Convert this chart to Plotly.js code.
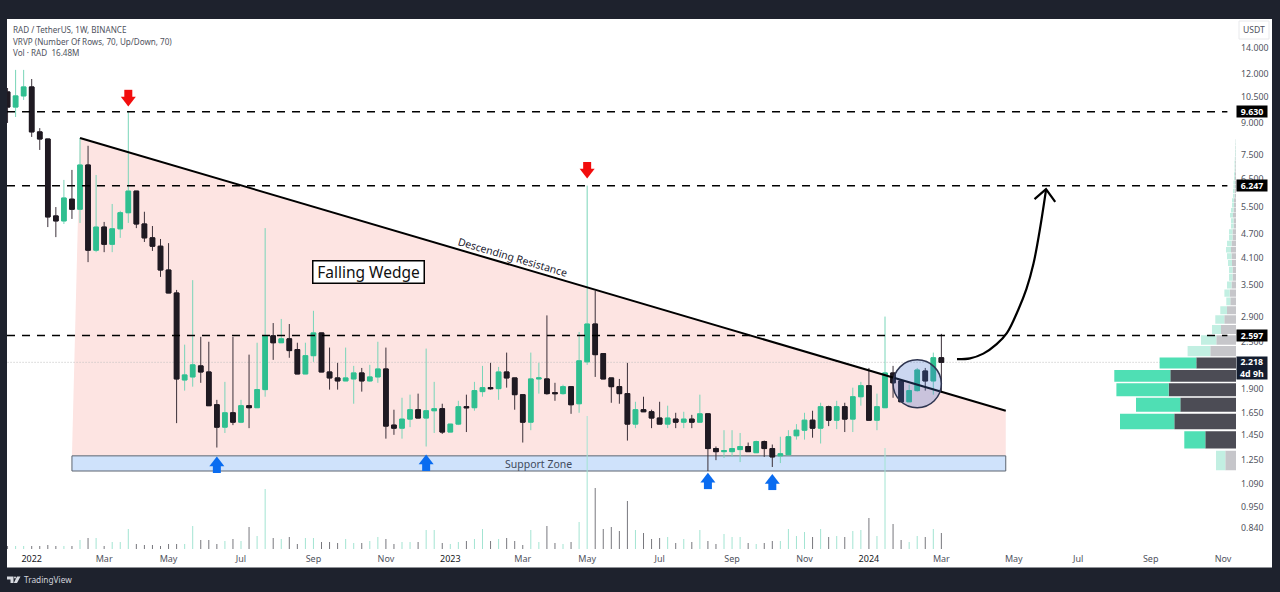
<!DOCTYPE html>
<html><head><meta charset="utf-8">
<script src="https://cdn.plot.ly/plotly-3.0.1.min.js"></script>
<style>html,body{margin:0;padding:0;background:#1e222d;overflow:hidden}#c{width:1280px;height:592px}</style>
</head><body><div id="c"></div>
<script>
const weeks = ["2021-12-13","2021-12-20","2021-12-27",
"2022-01-03","2022-01-10","2022-01-17","2022-01-24","2022-01-31","2022-02-07","2022-02-14","2022-02-21","2022-02-28",
"2022-03-07","2022-03-14","2022-03-21","2022-03-28","2022-04-04","2022-04-11","2022-04-18","2022-04-25",
"2022-05-02","2022-05-09","2022-05-16","2022-05-23","2022-05-30","2022-06-06","2022-06-13","2022-06-20","2022-06-27",
"2022-07-04","2022-07-11","2022-07-18","2022-07-25","2022-08-01","2022-08-08","2022-08-15","2022-08-22","2022-08-29",
"2022-09-05","2022-09-12","2022-09-19","2022-09-26","2022-10-03","2022-10-10","2022-10-17","2022-10-24","2022-10-31",
"2022-11-07","2022-11-14","2022-11-21","2022-11-28","2022-12-05","2022-12-12","2022-12-19","2022-12-26",
"2023-01-02","2023-01-09","2023-01-16","2023-01-23","2023-01-30","2023-02-06","2023-02-13","2023-02-20","2023-02-27",
"2023-03-06","2023-03-13","2023-03-20","2023-03-27","2023-04-03","2023-04-10","2023-04-17","2023-04-24",
"2023-05-01","2023-05-08","2023-05-15","2023-05-22","2023-05-29","2023-06-05","2023-06-12","2023-06-19","2023-06-26",
"2023-07-03","2023-07-10","2023-07-17","2023-07-24","2023-07-31","2023-08-07","2023-08-14","2023-08-21","2023-08-28",
"2023-09-04","2023-09-11","2023-09-18","2023-09-25","2023-10-02","2023-10-09","2023-10-16","2023-10-23","2023-10-30",
"2023-11-06","2023-11-13","2023-11-20","2023-11-27","2023-12-04","2023-12-11","2023-12-18","2023-12-25",
"2024-01-01","2024-01-08","2024-01-15","2024-01-22","2024-01-29","2024-02-05","2024-02-12","2024-02-19","2024-02-26","2024-03-04"];
const open = [10.82,9.90,10.57,11.14,8.56,8.21,5.23,5.08,5.77,5.44,7.05,4.28,4.90,4.43,4.85,5.33,6.05,4.99,4.60,4.38,
3.81,3.33,2.00,2.036,2.172,2.096,1.73,1.517,1.65,1.562,1.72,1.70,1.89,2.59,2.488,2.545,2.39,2.072,2.306,2.635,
2.096,2.024,1.989,2.012,2.084,1.989,2.036,2.133,1.535,1.508,1.59,1.68,1.60,1.67,1.69,1.474,1.544,1.71,1.70,1.868,
1.912,1.901,2.096,2.024,1.835,1.562,2.012,2.012,1.857,1.846,1.923,1.74,2.224,2.776,2.334,2.024,1.923,1.846,1.544,1.68,
1.66,1.60,1.544,1.59,1.562,1.59,1.562,1.64,1.338,1.314,1.314,1.33,1.354,1.306,1.394,1.338,1.282,1.29,1.442,1.49,
1.58,1.508,1.71,1.58,1.71,1.59,1.813,1.934,1.58,1.70,2.084,1.989,1.76,1.879,2.108,1.989,2.278];
const high = [11.07,12.31,12.31,11.67,8.75,8.21,5.51,6.46,6.85,8.26,7.89,6.65,5.05,5.61,5.39,9.63,6.05,5.36,4.93,4.57,
4.46,3.39,2.46,3.59,2.575,2.502,1.78,1.978,2.575,1.78,2.32,2.488,4.87,2.792,2.86,2.776,2.488,2.488,3.00,2.635,
2.418,2.211,2.418,2.172,2.146,2.185,2.502,2.418,1.68,1.802,1.835,1.846,2.404,1.978,1.74,1.544,1.77,1.835,1.978,2.172,
2.211,2.159,2.348,2.024,1.835,2.348,2.211,2.92,1.967,1.945,1.923,2.65,6.247,3.37,2.334,2.024,2.012,2.211,1.76,1.813,
1.68,1.76,1.72,1.65,1.66,1.63,1.835,1.64,1.354,1.49,1.49,1.466,1.386,1.402,1.402,1.37,1.434,1.49,1.544,1.65,
1.67,1.75,1.72,1.77,1.75,1.912,1.978,2.146,1.846,2.90,2.172,2.00,1.945,2.146,2.146,2.348,2.62];
const low = [9.02,9.34,10.32,8.31,7.70,4.90,4.62,4.99,5.14,5.02,3.99,4.23,4.23,4.23,4.60,5.02,4.87,4.49,4.26,3.66,
3.33,1.553,1.879,1.923,1.967,1.72,1.346,1.466,1.535,1.553,1.508,1.70,1.813,2.25,2.488,2.278,2.072,2.072,2.224,2.096,
1.89,1.89,1.989,1.74,1.868,1.978,1.967,1.418,1.45,1.418,1.517,1.60,1.354,1.466,1.458,1.474,1.535,1.474,1.67,1.813,
1.89,1.78,1.912,1.68,1.386,1.49,1.846,1.835,1.77,1.835,1.64,1.65,2.185,2.036,2.012,1.75,1.74,1.402,1.508,1.66,
1.508,1.544,1.508,1.508,1.508,1.508,1.562,1.173,1.25,1.266,1.274,1.236,1.314,1.306,1.274,1.201,1.229,1.29,1.41,1.41,
1.426,1.378,1.526,1.499,1.474,1.474,1.72,1.58,1.49,1.70,1.802,1.76,1.76,1.868,1.879,1.835,1.857];
const close = [9.90,10.57,11.14,8.56,8.21,5.20,5.08,5.81,5.44,7.05,4.28,4.90,4.43,4.85,5.33,6.05,4.99,4.60,4.38,3.81,
3.33,2.012,2.06,2.185,2.096,1.72,1.517,1.65,1.562,1.72,1.70,1.89,2.59,2.488,2.545,2.376,2.072,2.306,2.635,2.096,
2.024,1.989,2.024,2.084,1.989,2.036,2.133,1.526,1.508,1.59,1.68,1.60,1.67,1.69,1.474,1.544,1.71,1.70,1.879,1.912,
1.901,2.096,2.024,1.835,1.562,2.012,2.024,1.846,1.846,1.923,1.73,2.237,2.776,2.32,2.012,1.923,1.846,1.544,1.68,1.66,
1.60,1.544,1.60,1.562,1.59,1.562,1.64,1.338,1.314,1.322,1.338,1.354,1.314,1.394,1.338,1.274,1.298,1.434,1.49,1.58,
1.508,1.71,1.58,1.71,1.59,1.813,1.934,1.58,1.71,2.084,1.967,1.76,1.879,2.12,1.989,2.278,2.218];
const volumeM = [3.1,3.1,3.1,3.1,3.1,4.1,3.1,3.1,3.1,9.3,11.3,11.3,3.1,7.2,7.2,20.6,5.2,4.1,4.1,3.1,
5.2,5.2,5.2,23.7,9.3,9.3,5.2,8.2,10.3,8.2,22.7,13.4,61.8,11.3,10.3,12.4,5.2,11.3,11.3,7.2,
7.2,6.2,10.3,6.2,6.2,8.2,12.4,10.3,5.2,7.2,7.2,7.2,19.6,19.6,6.2,5.2,7.2,8.2,10.3,20.6,
8.2,10.3,11.3,8.2,4.1,19.6,7.2,23.7,6.2,5.2,7.2,27.8,137,62.8,20.6,22.7,18.5,49.4,19.6,16.5,
10.3,11.3,12.4,6.2,10.3,7.2,19.6,8.2,5.2,15.5,12.4,12.4,6.2,5.2,6.2,8.2,8.2,20.6,13.4,17.5,
12.4,20.6,12.4,13.4,12.4,18.5,19.6,31.9,13.4,104,25.8,9.3,7.2,13.4,12.4,20.6,16.48];
const vpRowLow = [1.17,1.33,1.49,1.65,1.81,1.97,2.13,2.29,2.45,2.61,2.77,2.93,3.09,3.25,3.41,3.57,3.73,3.89,4.05,4.21,4.37,4.53,
4.69,4.85,5.01,5.17,5.33,5.49,5.65,5.81,5.97,6.13,6.29,6.45,6.61,6.77,6.93,7.09,7.25,7.41,7.57,7.73,7.89,8.05];
const vpDown = [10.7,30.7,61.7,55.7,67.3,65.7,39.7,25.7,19.7,15,11.7,9,5.7,6.3,4.5,3.5,3.5,4,4.5,5,4.5,3.5,3.5,2.5,2.5,3,2.5,2,2,1.5,1.5,1.2,1.2,1,1,.8,.8,.8,.6,.5,.5,.4,.3,.2];
const vpUp = [9.3,21,54.3,44.3,52.3,56,36.7,22.7,15.3,9,9,6.7,4,5.3,4.5,3.5,3.5,4,4.5,5,4.5,3.5,3.5,2.5,2.5,3,2.5,2,2,1.5,1.5,1.3,1.3,1,1,.7,.7,.7,.6,.5,.5,.4,.3,.2];
const priceTicks = [14,12,10.5,9,7.5,6.5,5.5,4.7,4.1,3.5,2.9,2.5,1.9,1.65,1.45,1.25,1.09,0.95,0.84];
const priceTickText = ["14.000","12.000","10.500","9.000","7.500","6.500","5.500","4.700","4.100","3.500","2.900","2.500","1.900","1.650","1.450","1.250","1.090","0.950","0.840"];
const dateTicks = ["2022-01-03","2022-03-07","2022-05-02","2022-07-04","2022-09-05","2022-11-07","2023-01-02","2023-03-06","2023-05-01","2023-07-03","2023-09-04","2023-11-06","2024-01-01","2024-03-04","2024-05-06","2024-07-01","2024-09-02","2024-11-04"];
const dateTickText = ['<span style="color:#131722">2022</span>',"Mar","May","Jul","Sep","Nov",'<span style="color:#131722">2023</span>',"Mar","May","Jul","Sep","Nov",'<span style="color:#131722">2024</span>',"Mar","May","Jul","Sep","Nov"];
const levelHigh = 9.63, levelMid = 6.247, levelLow = 2.597, lastPrice = 2.218;
const wedgeStart = "2022-02-14", wedgeBase = "2022-02-07", wedgeEnd = "2024-04-29";
const wedgeTop = 8.26, wedgeEndPrice = 1.67, zoneTop = 1.282, zoneBottom = 1.173;
const redX = ["2022-03-28","2023-05-01"], redStem = [10.70,7.01], redHead = [10.32,6.77];
const blueX = ["2022-06-13","2022-12-12","2023-08-14","2023-10-09"], blueStem = [1.187,1.201,1.080,1.074], blueHead = [1.229,1.243,1.118,1.11];
const curveX = ["2024-03-17 14:00","2024-03-28 22:00","2024-04-09 12:00","2024-04-21 02:00","2024-04-30 02:00","2024-05-09 17:00","2024-05-17 00:00","2024-05-23 02:00","2024-05-28 07:00","2024-06-03 00:00"], curveY = [2.259,2.27,2.334,2.467,2.635,3.01,3.41,3.95,4.76,6.09];
const headX = ["2024-05-24","2024-06-03","2024-06-11"], headY = [5.77,6.12,5.68];

const W=1280,H=592,L=7,R=1236,T=19,B=549;
const px=x=>(x-L)/(R-L), py=y=>(B-y)/(B-T);
const hi=open.map((o,i)=>Math.max(o,close[i])), lo=open.map((o,i)=>Math.min(o,close[i]));
const FONT='"Noto Sans",sans-serif';
function vpPoly(idx, from, to){const xs=[],ys=[];idx.forEach(i=>{const a=vpRowLow[i]+0.009,b=vpRowLow[i]+0.151,f=from(i),t=to(i);xs.push(f,t,t,f,f,null);ys.push(a,a,b,b,a,null);});return [xs,ys];}
const heavy=[1,2,3,4,5,6], light=vpRowLow.map((_,i)=>i).filter(i=>!heavy.includes(i));
function vpTrace(idx,from,to,color){const [x,y]=vpPoly(idx,from,to);return {type:'scatter',mode:'lines',x,y,xaxis:'x2',yaxis:'y',fill:'toself',fillcolor:color,line:{width:0,color:color},hoverinfo:'skip',showlegend:false,connectgaps:false};}
const traces=[
 {type:'bar',x:weeks,y:volumeM,xaxis:'x',yaxis:'y2',width:75000000,marker:{color:open.map((o,i)=>close[i]>=o?'#a3e4d2':'#77777d'),line:{width:0}},showlegend:false,hoverinfo:'skip'},
 {type:'candlestick',x:weeks,open,high,low,close,xaxis:'x',yaxis:'y',whiskerwidth:0,increasing:{line:{color:'#78d5b8',width:1},fillcolor:'#78d5b8'},decreasing:{line:{color:'#3b3039',width:1},fillcolor:'#3b3039'},showlegend:false,hoverinfo:'skip'},
 {type:'candlestick',x:weeks,open,high:hi,low:lo,close,xaxis:'x',yaxis:'y',whiskerwidth:0,increasing:{line:{color:'#30bf90',width:1},fillcolor:'#30bf90'},decreasing:{line:{color:'#1f1a22',width:1},fillcolor:'#1f1a22'},showlegend:false,hoverinfo:'skip'},
 vpTrace(heavy,i=>0,i=>vpDown[i],'#4c4c55'),
 vpTrace(heavy,i=>vpDown[i],i=>vpDown[i]+vpUp[i],'#4fdfb4'),
 vpTrace(light,i=>0,i=>vpDown[i],'#c6c6ca'),
 vpTrace(light,i=>vpDown[i],i=>vpDown[i]+vpUp[i],'#c2efe2'),
 {type:'scatter',mode:'markers',x:redX,y:redStem,marker:{symbol:'square',size:8,color:'#f20d0d',line:{width:0}},showlegend:false,hoverinfo:'skip'},
 {type:'scatter',mode:'markers',x:redX,y:redHead,marker:{symbol:'triangle-down',size:13,color:'#f20d0d',line:{width:0}},showlegend:false,hoverinfo:'skip'},
 {type:'scatter',mode:'markers',x:blueX,y:blueStem,marker:{symbol:'square',size:8,color:'#0a6cf0',line:{width:0}},showlegend:false,hoverinfo:'skip'},
 {type:'scatter',mode:'markers',x:blueX,y:blueHead,marker:{symbol:'triangle-up',size:13,color:'#0a6cf0',line:{width:0}},showlegend:false,hoverinfo:'skip'},
 {type:'scatter',mode:'lines',x:curveX,y:curveY,line:{color:'#000',width:2.2,shape:'spline',smoothing:1},showlegend:false,hoverinfo:'skip'},
 {type:'scatter',mode:'lines',x:headX,y:headY,line:{color:'#000',width:2.2},showlegend:false,hoverinfo:'skip'}
];
const hline=(p,dash,color,w)=>({type:'line',xref:'paper',yref:'y',x0:0,x1:0.993,y0:p,y1:p,line:{color,width:w,dash},layer:'above'});
const shapes=[
 {type:'rect',xref:'paper',yref:'paper',x0:px(7),x1:px(1272),y0:py(567.5),y1:py(19),fillcolor:'#fff',line:{width:0},layer:'below'},
 {type:'rect',xref:'paper',yref:'paper',x0:px(1239),x1:px(1269),y0:py(39),y1:py(21),fillcolor:'#fff',line:{color:'#e8e9ec',width:1},layer:'below'},
 {type:'path',xref:'x',yref:'y',path:`M${wedgeStart},${wedgeTop} L${wedgeEnd},${wedgeEndPrice} L${wedgeEnd},${zoneTop} L${wedgeBase},${zoneTop} Z`,fillcolor:'#fde4e2',line:{width:0},layer:'below'},
 {type:'rect',xref:'x',yref:'y',x0:wedgeBase,x1:wedgeEnd,y0:zoneBottom,y1:zoneTop,fillcolor:'#cfe2fb',line:{color:'#5d6470',width:1},layer:'below'},
 {type:'line',xref:'x',yref:'y',x0:'2021-12-13',x1:'2024-11-15',y0:lastPrice,y1:lastPrice,line:{color:'#bdbdbd',width:1,dash:'1px,2px'},layer:'below'},
 hline(levelHigh,'8px,7px','#000',1.5),hline(levelMid,'8px,7px','#000',1.5),hline(levelLow,'8px,7px','#000',1.5),
 {type:'line',xref:'x',yref:'y',x0:wedgeStart,x1:wedgeEnd,y0:wedgeTop,y1:wedgeEndPrice,line:{color:'#000',width:2},layer:'above'},
 {type:'circle',xref:'x',yref:'y',x0:"2024-01-22",x1:"2024-03-04",y0:1.70,y1:2.25,fillcolor:'rgba(70,110,205,0.28)',line:{color:'#2f3550',width:1.5},layer:'above'},
 {type:'path',xref:'paper',yref:'paper',path:`M${px(7)},${py(576.5)} L${px(13.5)},${py(576.5)} L${px(13.5)},${py(583)} L${px(10.5)},${py(583)} L${px(10.5)},${py(579.5)} L${px(7)},${py(579.5)} Z`,fillcolor:'#d8dae0',line:{width:0},layer:'above'},
 {type:'circle',xref:'paper',yref:'paper',x0:px(14),x1:px(16),y0:py(578.5),y1:py(576.5),fillcolor:'#d8dae0',line:{width:0},layer:'above'},
 {type:'path',xref:'paper',yref:'paper',path:`M${px(17)},${py(576.5)} L${px(20.5)},${py(576.5)} L${px(17)},${py(583)} L${px(13.8)},${py(583)} Z`,fillcolor:'#d8dae0',line:{width:0},layer:'above'}
];
const legendA=(t,y)=>({xref:'paper',yref:'paper',x:px(10.5),y:py(y),xanchor:'left',yanchor:'middle',text:t,showarrow:false,font:{family:FONT,size:8.1,color:'#50535e'}});
const tag=(p,t,bg,shift,h)=>({xref:'paper',yref:'y',x:px(1236),y:Math.log10(p),yshift:shift||0,xanchor:'left',yanchor:'middle',text:t,showarrow:false,bgcolor:bg,width:30,height:h||11,font:{family:FONT,size:8.8,color:'#fff',weight:700},borderpad:0});
const annotations=[
 legendA('RAD / TetherUS, 1W, BINANCE',29),
 legendA('VRVP (Number Of Rows, 70, Up/Down, 70)',41),
 legendA('Vol · RAD  16.48M',53),
 {xref:'paper',yref:'paper',x:px(1254),y:py(30),xanchor:'center',yanchor:'middle',text:'USDT',showarrow:false,font:{family:FONT,size:8.6,color:'#50535e'}},
 tag(levelHigh,'9.630','#000'),tag(levelMid,'6.247','#000'),tag(levelLow,'2.597','#000'),
 tag(lastPrice,'2.218<br>4d 9h','#131c2e',-5.5,22),
 {xref:'paper',yref:'paper',x:px(368.5),y:py(272),xanchor:'center',yanchor:'middle',text:'Falling Wedge',showarrow:false,font:{family:FONT,size:15.5,color:'#111'},bgcolor:'#fff',bordercolor:'#000',borderwidth:1.5,width:110,height:21,borderpad:0},
 {xref:'paper',yref:'paper',x:px(512.5),y:py(257),xanchor:'center',yanchor:'middle',text:'Descending Resistance',textangle:16.4,showarrow:false,font:{family:FONT,size:10.5,color:'#1c2230'}},
 {xref:'paper',yref:'paper',x:px(538),y:py(463.5),xanchor:'center',yanchor:'middle',text:'Support Zone',showarrow:false,font:{family:FONT,size:10.5,color:'#3f4a5c'}},
 {xref:'paper',yref:'paper',x:px(22),y:py(579.5),xanchor:'left',yanchor:'middle',text:'TradingView',showarrow:false,font:{family:FONT,size:8.3,color:'#d1d4dc'}}
];
const layout={width:W,height:H,margin:{l:L,r:W-R,t:T,b:H-B,pad:0,autoexpand:false},paper_bgcolor:'#1e222d',plot_bgcolor:'#fff',showlegend:false,hovermode:false,dragmode:false,boxgap:0.18,
 xaxis:{type:'date',domain:[0,1],range:['2021-12-12 12:30','2024-11-15 05:00'],rangeslider:{visible:false},showgrid:false,zeroline:false,showline:false,ticks:'',tickmode:'array',tickvals:dateTicks,ticktext:dateTickText,tickangle:0,tickfont:{family:FONT,size:9,color:'#50535e'},ticklabelstandoff:3,automargin:false},
 xaxis2:{overlaying:'x',anchor:'y',range:[R-L,0],visible:false,showgrid:false,zeroline:false,fixedrange:true},
 yaxis:{type:'log',side:'right',range:[-0.1292,1.2198],showgrid:false,zeroline:false,showline:false,ticks:'',tickmode:'array',tickvals:priceTicks,ticktext:priceTickText,tickfont:{family:FONT,size:8.8,color:'#50535e'},ticklabelstandoff:4,automargin:false},
 yaxis2:{overlaying:'y',side:'left',range:[0,546],visible:false,showgrid:false,zeroline:false},
 shapes,annotations};
Plotly.newPlot('c',traces,layout,{displayModeBar:false,staticPlot:true});
</script></body></html>
